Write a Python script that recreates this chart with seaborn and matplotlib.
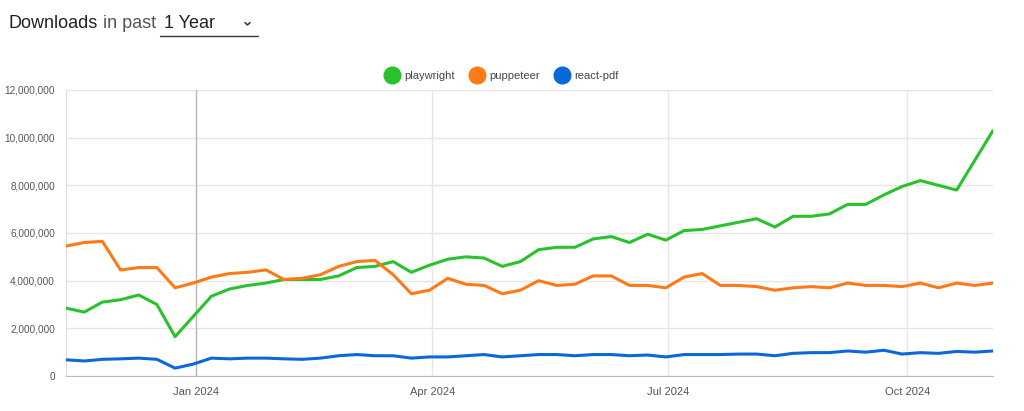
import pandas as pd
import seaborn as sns
import matplotlib.pyplot as plt
import matplotlib.dates as mdates
from matplotlib.ticker import FuncFormatter
from matplotlib.lines import Line2D

# weekly downloads (millions)
weeks = pd.date_range("2023-11-12", periods=52, freq="7D")

playwright = [2.85, 2.68, 3.1, 3.2, 3.4, 3.0, 1.65, 2.5, 3.35, 3.65, 3.8, 3.9, 4.05,
              4.05, 4.05, 4.2, 4.55, 4.6, 4.8, 4.35, 4.65, 4.9, 5.0, 4.95, 4.6, 4.8,
              5.3, 5.4, 5.4, 5.75, 5.85, 5.6, 5.95, 5.7, 6.1, 6.15, 6.3, 6.45, 6.6,
              6.25, 6.7, 6.7, 6.8, 7.2, 7.2, 7.6, 7.95, 8.2, 8.0, 7.8, 9.05, 10.3]
puppeteer = [5.45, 5.6, 5.65, 4.45, 4.55, 4.55, 3.7, 3.9, 4.15, 4.3, 4.35, 4.45, 4.05,
             4.1, 4.25, 4.6, 4.8, 4.85, 4.25, 3.45, 3.6, 4.1, 3.85, 3.8, 3.45, 3.6,
             4.0, 3.8, 3.85, 4.2, 4.2, 3.8, 3.8, 3.7, 4.15, 4.3, 3.8, 3.8, 3.75,
             3.6, 3.7, 3.75, 3.7, 3.9, 3.8, 3.8, 3.75, 3.9, 3.7, 3.9, 3.8, 3.9]
react_pdf = [0.68, 0.63, 0.7, 0.72, 0.75, 0.7, 0.33, 0.5, 0.75, 0.72, 0.75, 0.75, 0.72,
             0.7, 0.75, 0.85, 0.9, 0.85, 0.85, 0.75, 0.8, 0.8, 0.85, 0.9, 0.8, 0.85,
             0.9, 0.9, 0.85, 0.9, 0.9, 0.85, 0.88, 0.8, 0.9, 0.9, 0.9, 0.92, 0.92,
             0.85, 0.95, 0.98, 0.98, 1.05, 1.0, 1.08, 0.92, 0.98, 0.95, 1.03, 1.0, 1.05]

packages = ["playwright", "puppeteer", "react-pdf"]
colors = {"playwright": "#28c22c", "puppeteer": "#ff7a17", "react-pdf": "#0a68d8"}

df = pd.DataFrame({"week": weeks, "playwright": playwright,
                   "puppeteer": puppeteer, "react-pdf": react_pdf})
long = df.melt(id_vars="week", var_name="package", value_name="downloads")
long["downloads"] = long["downloads"] * 1e6

sns.set_style("white")
plt.rcParams["font.family"] = ["Liberation Sans", "DejaVu Sans"]

fig = plt.figure(figsize=(10.24, 4.11), dpi=100)
ax = fig.add_axes([66 / 1024, 1 - 376 / 411, (993 - 66) / 1024, (376 - 90) / 411])

sns.lineplot(data=long, x="week", y="downloads", hue="package", hue_order=packages,
             palette=colors, linewidth=2.2, ax=ax, legend=False, zorder=3)

ax.set_xlim(weeks[0], weeks[-1])
ax.set_ylim(0, 12e6)
ax.set_yticks(range(0, 12_000_001, 2_000_000))
ax.yaxis.set_major_formatter(FuncFormatter(lambda v, p: f"{int(v):,}"))
ax.xaxis.set_major_locator(mdates.MonthLocator(bymonth=[1, 4, 7, 10]))
ax.xaxis.set_major_formatter(mdates.DateFormatter("%b %Y"))
ax.set_xlabel("")
ax.set_ylabel("")
ax.grid(True, color="#e6e6e6", linewidth=1)
ax.tick_params(length=0, labelcolor="#555555")
ax.tick_params(axis="y", pad=8, labelsize=7.2)
ax.tick_params(axis="x", pad=8, labelsize=8)
for s in ["top", "right"]:
    ax.spines[s].set_visible(False)
ax.spines["left"].set_color("#dddddd")
ax.spines["bottom"].set_color("#bbbbbb")
ax.axvline(pd.Timestamp("2024-01-01"), color="#bbbbbb", linewidth=1, zorder=2)

handles = [Line2D([], [], marker="o", linestyle="", markersize=12,
                  markerfacecolor=colors[p], markeredgecolor=colors[p]) for p in packages]
fig.legend(handles, packages, loc="center", bbox_to_anchor=(0.488, 1 - 76 / 411),
           ncol=3, frameon=False, fontsize=8, handletextpad=0.1, columnspacing=1.0,
           labelcolor="#444444")

fig.text(8 / 1024, 1 - 24 / 411, "Downloads", fontsize=13, color="#222222", va="center")
fig.text(103 / 1024, 1 - 24 / 411, "in past", fontsize=13, color="#555555", va="center")
fig.text(164 / 1024, 1 - 24 / 411, "1 Year", fontsize=13, color="#222222", va="center")
# dropdown chevron and underline
fig.add_artist(Line2D([245 / 1024, 247.5 / 1024, 250 / 1024],
                      [1 - 22.5 / 411, 1 - 25 / 411, 1 - 22.5 / 411],
                      color="#333333", linewidth=1.1))
fig.add_artist(Line2D([160 / 1024, 258 / 1024], [1 - 36 / 411, 1 - 36 / 411],
                      color="#333333", linewidth=1))

fig.savefig("out.png", dpi=100)
